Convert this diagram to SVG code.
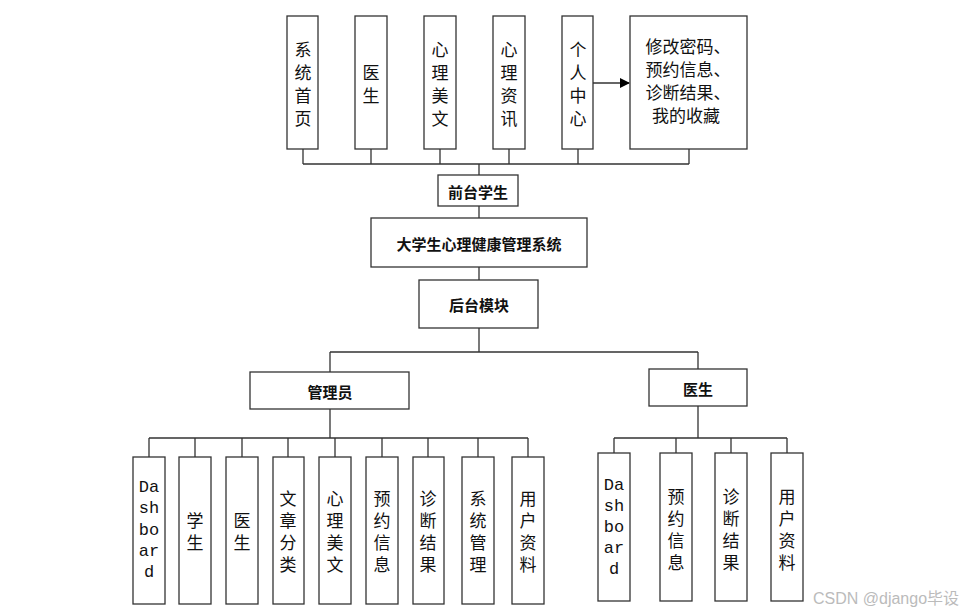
<svg xmlns="http://www.w3.org/2000/svg" width="972" height="616" viewBox="0 0 972 616">
<style>
rect{fill:#fff;stroke:#333;stroke-width:1.3}
.c path,.c line{stroke:#333;stroke-width:1.3;fill:none}
text{font-family:"Noto Sans CJK SC","Liberation Serif",serif;font-size:17px;fill:#111;text-anchor:middle;dominant-baseline:central}
.h{font-size:15px;font-weight:bold}
.m{font-family:"Liberation Mono","Noto Sans CJK SC",monospace;font-size:17px}
</style>
<defs><marker id="a" markerWidth="10" markerHeight="10" refX="9" refY="5" orient="auto" markerUnits="userSpaceOnUse"><path d="M0,0L10,5L0,10z" fill="#000"/></marker></defs>
<g class="c">
<path d="M303,149V164M371,149V164M440,149V164M509,149V164M578,149V164M689,149V164M303,164H689"/>
<path d="M479,164V175M479,206V218M479,267V280M479,328V352M330,352H698M330,352V372M698,352V369"/>
<path d="M330,409V438M149,438H528M149,438V457M195,438V457M242,438V457M288,438V457M335,438V457M382,438V457M428,438V457M478,438V457M528,438V457"/>
<path d="M698,406V438M614,438H787M614,438V453M676,438V453M731,438V453M787,438V453"/>
<line x1="593" y1="83" x2="629" y2="83" marker-end="url(#a)"/>
</g>
<g id="n1"><rect x="287" y="16" width="31" height="133"/><text x="303" y="48">系</text><text x="303" y="71">统</text><text x="303" y="94">首</text><text x="303" y="117">页</text></g>
<g id="n2"><rect x="355" y="16" width="32" height="133"/><text x="371" y="71">医</text><text x="371" y="94">生</text></g>
<g id="n3"><rect x="424" y="16" width="32" height="133"/><text x="440" y="48">心</text><text x="440" y="71">理</text><text x="440" y="94">美</text><text x="440" y="117">文</text></g>
<g id="n4"><rect x="493" y="16" width="32" height="133"/><text x="509" y="48">心</text><text x="509" y="71">理</text><text x="509" y="94">资</text><text x="509" y="117">讯</text></g>
<g id="n5"><rect x="562" y="16" width="31" height="133"/><text x="578" y="48">个</text><text x="578" y="71">人</text><text x="578" y="94">中</text><text x="578" y="117">心</text></g>
<g id="n6"><rect x="630" y="16" width="117" height="133"/><text x="688" y="45">修改密码、</text><text x="688" y="68">预约信息、</text><text x="688" y="91">诊断结果、</text><text x="686" y="114">我的收藏</text></g>
<g id="qt"><rect x="438" y="175" width="80" height="31"/><text class="h" x="478" y="191">前台学生</text></g>
<g id="sys"><rect x="371" y="218" width="216" height="49"/><text class="h" x="479" y="243">大学生心理健康管理系统</text></g>
<g id="ht"><rect x="419" y="280" width="119" height="48"/><text class="h" x="479" y="304">后台模块</text></g>
<g id="admin"><rect x="250" y="372" width="159" height="37"/><text class="h" x="330" y="391">管理员</text></g>
<g id="doc"><rect x="649" y="369" width="98" height="37"/><text class="h" x="698" y="388">医生</text></g>
<g id="a1"><rect x="133" y="457" width="32" height="147"/><text class="m" x="149" y="487">Da</text><text class="m" x="149" y="508">sh</text><text class="m" x="149" y="530">bo</text><text class="m" x="149" y="551">ar</text><text class="m" x="149" y="572">d</text></g>
<g id="a2"><rect x="179" y="457" width="32" height="147"/><text x="195" y="519">学</text><text x="195" y="541">生</text></g>
<g id="a3"><rect x="226" y="457" width="32" height="147"/><text x="242" y="519">医</text><text x="242" y="541">生</text></g>
<g id="a4"><rect x="273" y="457" width="31" height="147"/><text x="288" y="497">文</text><text x="288" y="519">章</text><text x="288" y="541">分</text><text x="288" y="563">类</text></g>
<g id="a5"><rect x="319" y="457" width="32" height="147"/><text x="335" y="497">心</text><text x="335" y="519">理</text><text x="335" y="541">美</text><text x="335" y="563">文</text></g>
<g id="a6"><rect x="366" y="457" width="32" height="147"/><text x="382" y="497">预</text><text x="382" y="519">约</text><text x="382" y="541">信</text><text x="382" y="563">息</text></g>
<g id="a7"><rect x="413" y="457" width="31" height="147"/><text x="428" y="497">诊</text><text x="428" y="519">断</text><text x="428" y="541">结</text><text x="428" y="563">果</text></g>
<g id="a8"><rect x="462" y="457" width="32" height="147"/><text x="478" y="497">系</text><text x="478" y="519">统</text><text x="478" y="541">管</text><text x="478" y="563">理</text></g>
<g id="a9"><rect x="512" y="457" width="32" height="147"/><text x="528" y="497">用</text><text x="528" y="519">户</text><text x="528" y="541">资</text><text x="528" y="563">料</text></g>
<g id="d1"><rect x="598" y="453" width="32" height="148"/><text class="m" x="614" y="485">Da</text><text class="m" x="614" y="506">sh</text><text class="m" x="614" y="527">bo</text><text class="m" x="614" y="548">ar</text><text class="m" x="614" y="569">d</text></g>
<g id="d2"><rect x="660" y="453" width="32" height="148"/><text x="676" y="495">预</text><text x="676" y="517">约</text><text x="676" y="539">信</text><text x="676" y="561">息</text></g>
<g id="d3"><rect x="715" y="453" width="32" height="148"/><text x="731" y="495">诊</text><text x="731" y="517">断</text><text x="731" y="539">结</text><text x="731" y="561">果</text></g>
<g id="d4"><rect x="771" y="453" width="32" height="148"/><text x="787" y="495">用</text><text x="787" y="517">户</text><text x="787" y="539">资</text><text x="787" y="561">料</text></g>
<text x="886" y="598" style="font-family:'Liberation Sans','Noto Sans CJK SC',sans-serif;font-size:16px;fill:#bbb">CSDN @django毕设</text>
</svg>
